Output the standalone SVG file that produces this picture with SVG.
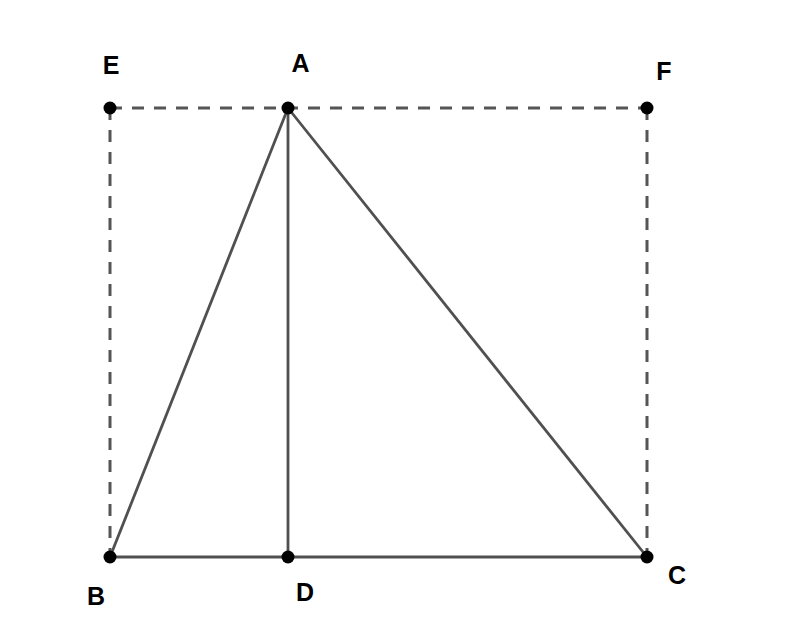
<svg xmlns="http://www.w3.org/2000/svg" width="801" height="626" viewBox="0 0 801 626">
<style>
.dash{stroke:#555;stroke-width:3;stroke-dasharray:12 10;fill:none}
.solid{stroke:#505050;stroke-width:2.8;fill:none}
.pt{fill:#000}
.lbl{font-family:"Liberation Sans",Arial,sans-serif;font-weight:bold;font-size:25px;fill:#000;text-anchor:middle}
</style>
<rect width="801" height="626" fill="#fff"/>
<g id="connectors">
<line class="dash" x1="110" y1="108" x2="647" y2="108"/>
<line class="dash" x1="110" y1="108" x2="110" y2="557"/>
<line class="dash" x1="647" y1="108" x2="647" y2="557"/>
<line class="solid" x1="288" y1="108" x2="110" y2="557"/>
<line class="solid" x1="288" y1="108" x2="288" y2="557"/>
<line class="solid" x1="288" y1="108" x2="647" y2="557"/>
<line class="solid" x1="110" y1="557" x2="647" y2="557"/>
</g>
<g id="E"><circle class="pt" cx="110" cy="108" r="6.5"/><text class="lbl" x="111" y="74">E</text></g>
<g id="A"><circle class="pt" cx="288" cy="108" r="6.5"/><text class="lbl" x="300.5" y="72">A</text></g>
<g id="F"><circle class="pt" cx="647" cy="108" r="6.5"/><text class="lbl" x="664" y="80">F</text></g>
<g id="B"><circle class="pt" cx="110" cy="557" r="6.5"/><text class="lbl" x="96" y="605">B</text></g>
<g id="D"><circle class="pt" cx="288" cy="557" r="6.5"/><text class="lbl" x="305" y="601">D</text></g>
<g id="C"><circle class="pt" cx="647" cy="557" r="6.5"/><text class="lbl" x="677" y="584">C</text></g>
</svg>
